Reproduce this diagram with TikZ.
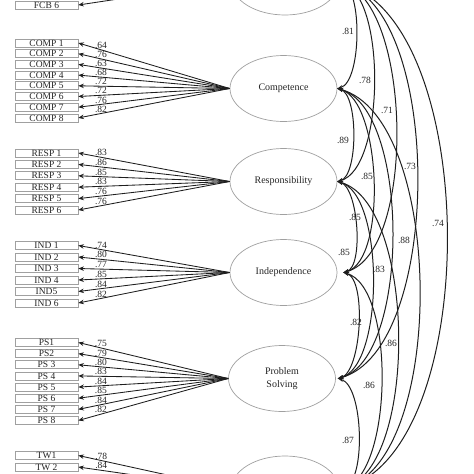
\documentclass[tikz,border=0pt]{standalone}
\usepackage{fontspec}
\setmainfont{Liberation Serif}
\usetikzlibrary{arrows.meta,shapes.geometric}
\definecolor{boxgray}{HTML}{A0A0A0}
\definecolor{elgray}{HTML}{A0A0A0}
\definecolor{lncol}{HTML}{1E1E1E}
\definecolor{txt}{HTML}{262626}
\begin{document}
\begin{tikzpicture}[x=1pt,y=-1pt,
 ind/.style={draw=boxgray, line width=0.7pt, minimum width=63pt, minimum height=8pt, inner sep=0pt, text=txt, font=\fontsize{9.5}{9.5}\selectfont},
 fac/.style={ellipse, draw=elgray, line width=0.7pt, minimum width=107pt, minimum height=66pt, inner sep=0pt, text=txt, font=\fontsize{10}{13}\selectfont, align=center},
 load/.style={draw=lncol, line width=0.85pt, -{Stealth[length=5.5pt,width=4.5pt]}},
 cov/.style={draw=lncol, line width=1pt, {Stealth[length=5.5pt,width=4pt]}-{Stealth[length=5.5pt,width=4pt]}},
 lab/.style={text=txt, font=\fontsize{9.5}{9.5}\selectfont, inner sep=0.8pt}
]
\fill[white] (0,0) rectangle (474,474);
\useasboundingbox (0,0) rectangle (474,474);

% factors
\node[fac] (fcb)  at (285,-18) {};
\node[fac] (comp) at (283.5,88.5) {Competence};
\node[fac] (resp) at (283.5,181.5) {Responsibility};
\node[fac] (indf) at (283.5,272.5) {Independence};
\node[fac] (ps)   at (282,378.5) {Problem\\Solving};
\node[fac] (tw)   at (285,489) {};

% FCB 6
\node[ind] (fcb6) at (46.5,5) {FCB 6};
\draw[load] (fcb.west) -- (fcb6.east);

% COMP
\foreach \k/\v in {1/.64,2/.76,3/.63,4/.68,5/.72,6/.72,7/.76,8/.82}{
  \node[ind] (comp\k) at (46.5,{43+(\k-1)*10.7}) {COMP \k};
  \draw[load] (comp.west) -- (comp\k.east) node[lab, pos=0.85, above] (lc\k) {\v};
}
% RESP
\foreach \k/\v in {1/.83,2/.86,3/.85,4/.83,5/.76,6/.76}{
  \node[ind] (resp\k) at (46.5,{153+(\k-1)*11.4}) {RESP \k};
  \draw[load] (resp.west) -- (resp\k.east) node[lab, pos=0.85, above] (lr\k) {\v};
}
% IND
\foreach \k/\t/\v in {1/IND 1/.74,2/IND 2/.80,3/IND 3/.77,4/IND 4/.85,5/IND5/.84,6/IND 6/.82}{
  \node[ind] (ind\k) at (46.5,{245.5+(\k-1)*11.5}) {\t};
  \draw[load] (indf.west) -- (ind\k.east) node[lab, pos=0.85, above] (li\k) {\v};
}
% PS
\foreach \k/\t/\v in {1/PS1/.75,2/PS2/.79,3/PS 3/.80,4/PS 4/.83,5/PS 5/.84,6/PS 6/.85,7/PS 7/.84,8/PS 8/.82}{
  \node[ind] (ps\k) at (46.5,{342.5+(\k-1)*11.14}) {\t};
  \draw[load] (ps.west) -- (ps\k.east) node[lab, pos=0.85, above] (lp\k) {\v};
}
% TW
\foreach \k/\t/\v in {1/TW1/.78,2/TW 2/.84}{
  \node[ind] (tw\k) at (46.5,{455.5+(\k-1)*11.5}) {\t};
  \draw[load] (tw.west) -- (tw\k.east) node[lab, pos=0.85, above] (lt\k) {\v};
}

% covariance end points
\coordinate (r0) at (fcb.east);
\coordinate (r1) at (comp.east);
\coordinate (r2) at (resp.east);
\coordinate (r3) at ([xshift=6pt]indf.east);
\coordinate (r4) at ([xshift=2pt]ps.east);
\coordinate (r5) at ([xshift=2pt]tw.east);

\draw[cov] (r0) .. controls +(24.1,6.5) and +(24.1,-6.5) .. (r1);
\draw[cov] (r0) .. controls +(47.7,12.9) and +(47.7,-12.9) .. (r2);
\draw[cov] (r0) .. controls +(73.3,19.8) and +(73.3,-19.8) .. (r3);
\draw[cov] (r0) .. controls +(105,28.4) and +(105,-28.4) .. (r4);
\draw[cov] (r0) .. controls +(142.4,38.4) and +(142.4,-38.4) .. (r5);
\draw[cov] (r1) .. controls +(21,5.7) and +(21,-5.7) .. (r2);
\draw[cov] (r1) .. controls +(44,11.9) and +(44,-11.9) .. (r3);
\draw[cov] (r1) .. controls +(72.8,19.7) and +(72.8,-19.7) .. (r4);
\draw[cov] (r1) .. controls +(107,28.9) and +(107,-28.9) .. (r5);
\draw[cov] (r2) .. controls +(20.8,5.6) and +(20.8,-5.6) .. (r3);
\draw[cov] (r2) .. controls +(46.9,12.7) and +(46.9,-12.7) .. (r4);
\draw[cov] (r2) .. controls +(78.4,21.2) and +(78.4,-21.2) .. (r5);
\draw[cov] (r3) .. controls +(23.6,6.4) and +(23.6,-6.4) .. (r4);
\draw[cov] (r3) .. controls +(52.3,14.1) and +(52.3,-14.1) .. (r5);
\draw[cov] (r4) .. controls +(25.6,6.9) and +(25.6,-6.9) .. (r5);

% covariance labels
\node[lab] (c01) at (348,31) {.81};
\node[lab] (c02) at (365,80) {.78};
\node[lab] (c03) at (387,110) {.71};
\node[lab] (c12) at (343,140) {.89};
\node[lab] (c04) at (410,166) {.73};
\node[lab] (c13) at (367,176) {.85};
\node[lab] (c23) at (355,217) {.85};
\node[lab] (c05) at (438,223) {.74};
\node[lab] (c14) at (404,240) {.88};
\node[lab] (c15) at (344,252) {.85};
\node[lab] (c24) at (379,269) {.83};
\node[lab] (c34) at (356,322) {.82};
\node[lab] (c25) at (391,343) {.86};
\node[lab] (c35) at (369,385) {.86};
\node[lab] (c45) at (348,440) {.87};
\end{tikzpicture}
\end{document}
